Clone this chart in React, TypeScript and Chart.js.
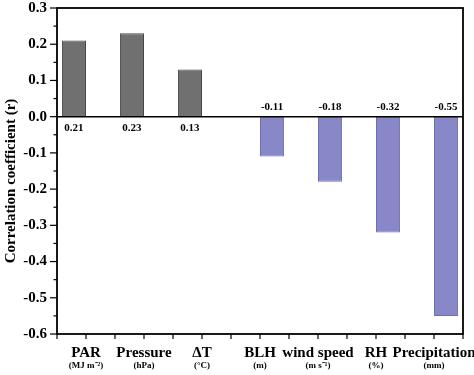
import React, { useEffect, useRef } from "react";
import { Chart, registerables } from "chart.js";

Chart.register(...registerables);

const categories = ["PAR", "Pressure", "ΔT", "BLH", "wind speed", "RH", "Precipitation"];
const units = ["(MJ m⁻²)", "(hPa)", "(°C)", "(m)", "(m s⁻¹)", "(%)", "(mm)"];
const positiveValues = [0.21, 0.23, 0.13, null, null, null, null];
const negativeValues = [null, null, null, -0.11, -0.18, -0.32, -0.55];
const yMin = -0.6;
const yMax = 0.3;
const yStep = 0.1;
const yTitle = "Correlation coefficient (r)";

const FONT = '"Liberation Serif", "Times New Roman", serif';

const decorPlugin = {
  id: "decor",
  afterDatasetsDraw(chart: any) {
    const ctx = chart.ctx;
    const { left, right, top, bottom } = chart.chartArea;
    const y = chart.scales.y;
    const x = chart.scales.x;
    ctx.save();
    ctx.strokeStyle = "#000";
    ctx.fillStyle = "#000";
    // zero line
    const y0 = y.getPixelForValue(0);
    ctx.lineWidth = 1.5;
    ctx.beginPath();
    ctx.moveTo(left, y0);
    ctx.lineTo(right, y0);
    ctx.stroke();
    // frame
    ctx.lineWidth = 1.8;
    ctx.strokeRect(left, top, right - left, bottom - top);
    // y ticks
    ctx.lineWidth = 1.2;
    const n = Math.round((yMax - yMin) / (yStep / 2));
    for (let i = 0; i <= n; i++) {
      const v = yMin + (i * yStep) / 2;
      const py = y.getPixelForValue(v);
      const len = i % 2 === 0 ? 7 : 3.5;
      ctx.beginPath();
      ctx.moveTo(left - len, py);
      ctx.lineTo(left, py);
      ctx.stroke();
    }
    // x ticks
    for (let i = 0; i < categories.length; i++) {
      const cx = x.getPixelForValue(i);
      const half = (x.getPixelForValue(1) - x.getPixelForValue(0)) / 2;
      const xs = [cx, cx + half];
      if (i === 0) xs.push(cx - half);
      xs.forEach((px) => {
        ctx.beginPath();
        ctx.moveTo(px, bottom);
        ctx.lineTo(px, bottom + 5);
        ctx.stroke();
      });
    }
    // x labels
    ctx.textAlign = "center";
    ctx.textBaseline = "middle";
    for (let i = 0; i < categories.length; i++) {
      const cx = x.getPixelForValue(i);
      ctx.font = `bold 15px ${FONT}`;
      ctx.fillText(categories[i], cx, bottom + 19);
      ctx.font = `bold 9px ${FONT}`;
      ctx.fillText(units[i], cx, bottom + 32);
    }
    // value labels
    ctx.font = `bold 11px ${FONT}`;
    const m0 = chart.getDatasetMeta(0);
    const m1 = chart.getDatasetMeta(1);
    positiveValues.forEach((v, j) => {
      if (v == null) return;
      const el = m0.data[j];
      ctx.fillText(v.toFixed(2), el.x, y0 + 11);
    });
    negativeValues.forEach((v, j) => {
      if (v == null) return;
      const el = m1.data[j];
      ctx.fillText(v.toFixed(2), el.x, y0 - 10);
    });
    // y title
    ctx.save();
    ctx.translate(11, (top + bottom) / 2 + 10);
    ctx.rotate(-Math.PI / 2);
    ctx.font = `bold 15px ${FONT}`;
    ctx.fillText(yTitle, 0, 0);
    ctx.restore();
    ctx.restore();
  },
};

export default function App() {
  const ref = useRef<HTMLCanvasElement>(null);
  useEffect(() => {
    document.body.style.margin = "0";
    const chart = new Chart(ref.current!, {
      type: "bar",
      data: {
        labels: categories,
        datasets: [
          {
            data: positiveValues as any,
            backgroundColor: "rgb(112,112,112)",
            borderColor: "rgb(70,70,70)",
            borderWidth: 1,
            categoryPercentage: 0.83,
            barPercentage: 1.0,
          },
          {
            data: negativeValues as any,
            backgroundColor: "rgb(136,136,200)",
            borderColor: "rgb(110,110,178)",
            borderWidth: 1,
            categoryPercentage: 0.83,
            barPercentage: 1.0,
          },
        ],
      },
      options: {
        responsive: false,
        animation: false,
        layout: { padding: { top: 8, right: 11, bottom: 0, left: 0 } },
        plugins: { legend: { display: false }, tooltip: { enabled: false } },
        scales: {
          x: {
            offset: true,
            grid: { display: false, drawTicks: false },
            border: { display: false },
            ticks: { display: false },
            afterFit: (s: any) => {
              s.height = 41;
              s.paddingLeft = 0;
              s.paddingRight = 0;
            },
          },
          y: {
            min: yMin,
            max: yMax,
            grid: { display: false, drawTicks: false },
            border: { display: false },
            ticks: {
              stepSize: yStep,
              padding: 10,
              color: "#000",
              font: { family: FONT, size: 15, weight: "bold" },
              callback: (v: any) => Number(v).toFixed(1),
            },
            afterFit: (s: any) => {
              s.width = 57;
              s.paddingTop = 0;
              s.paddingBottom = 0;
            },
          },
        },
      },
      plugins: [decorPlugin],
    });
    return () => chart.destroy();
  }, []);
  return (
    <div style={{ width: 474, height: 375 }}>
      <canvas ref={ref} width={474} height={375} />
    </div>
  );
}
